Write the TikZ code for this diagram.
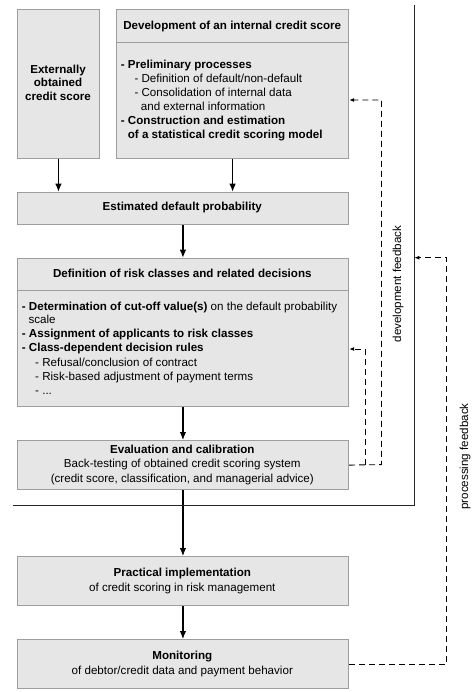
\documentclass[tikz,border=0pt]{standalone}
\usepackage{fontspec}
\setmainfont{Liberation Sans}
\usetikzlibrary{arrows.meta}
\definecolor{boxfill}{HTML}{E6E6E6}
\definecolor{boxline}{HTML}{9E9E9E}
\tikzset{
  box/.style={draw=boxline, fill=boxfill, line width=0.9pt, inner sep=0pt, anchor=north west},
  txt/.style={inner sep=0pt, font=\fontsize{11.6}{14}\selectfont},
  lft/.style={txt, anchor=base west},
  ctr/.style={txt, anchor=base},
  flow/.style={line width=1.1pt, -{Latex[length=8pt,width=6.5pt]}},
  fb/.style={line width=0.9pt, dash pattern=on 6pt off 4pt, -{Latex[length=5pt,width=4pt]}},
}
\begin{document}
\begin{tikzpicture}[x=1pt,y=-1pt]
\useasboundingbox (0,0) rectangle (474,692);

% boxes
\node[box, minimum width=82.6pt, minimum height=148.7pt] (ext) at (16.7,9) {};
\node[box, minimum width=232.3pt, minimum height=148.7pt] (dev) at (116,9) {};
\draw[boxline, line width=0.9pt] (116,42) -- (348.3,42);
\node[box, minimum width=331.6pt, minimum height=32.6pt] (est) at (16.7,191.7) {};
\node[box, minimum width=331.6pt, minimum height=148.3pt] (def) at (16.7,257.7) {};
\draw[boxline, line width=0.9pt] (16.7,290.7) -- (348.3,290.7);
\node[box, minimum width=331.6pt, minimum height=49.3pt] (eval) at (16.7,440) {};
\node[box, minimum width=331.6pt, minimum height=49.3pt] (prac) at (16.7,556) {};
\node[box, minimum width=331.6pt, minimum height=49.3pt] (mon) at (16.7,639) {};

% texts: externally
\node[ctr] (e1) at (58,73.3) {\bfseries Externally};
\node[ctr] (e2) at (58,87) {\bfseries obtained};
\node[ctr] (e3) at (58,101) {\bfseries credit score};

% development
\node[ctr] (dh) at (232.2,29.3) {\bfseries Development of an internal credit score};
\node[lft] (d1) at (120.7,68.6) {\bfseries - Preliminary processes};
\node[lft] (d2) at (134.3,82.6) {- Definition of default/non-default};
\node[lft] (d3) at (134.3,96.6) {- Consolidation of internal data};
\node[lft] (d4) at (140.7,110.3) {and external information};
\node[lft] (d5) at (120.7,124.3) {\bfseries - Construction and estimation};
\node[lft] (d6) at (127.7,138.6) {\bfseries of a statistical credit scoring model};

% estimated
\node[ctr] (es) at (182.3,210.9) {\bfseries Estimated default probability};

% definition
\node[ctr] (dfh) at (182.3,277.3) {\bfseries Definition of risk classes and related decisions};
\node[lft] (f1) at (21.7,310.3) {\textbf{- Determination of cut-off value(s)} on the default probability};
\node[lft] (f2) at (28.3,323.6) {scale};
\node[lft] (f3) at (21.7,337.9) {\bfseries - Assignment of applicants to risk classes};
\node[lft] (f4) at (21.7,351.9) {\bfseries - Class-dependent decision rules};
\node[lft] (f5) at (35,366.3) {- Refusal/conclusion of contract};
\node[lft] (f6) at (35,380.3) {- Risk-based adjustment of payment terms};
\node[lft] (f7) at (35,394) {- ...};

% evaluation
\node[ctr] (v1) at (182.3,453.3) {\bfseries Evaluation and calibration};
\node[ctr] (v2) at (182.3,467.9) {Back-testing of obtained credit scoring system};
\node[ctr] (v3) at (182.3,482.6) {(credit score, classification, and managerial advice)};

% practical
\node[ctr] (p1) at (182.3,576.3) {\bfseries Practical implementation};
\node[ctr] (p2) at (182.3,591.3) {of credit scoring in risk management};

% monitoring
\node[ctr] (m1) at (182.3,659.6) {\bfseries Monitoring};
\node[ctr] (m2) at (182.3,674.3) {of debtor/credit data and payment behavior};

% flow arrows
\draw[flow] (ext.south) -- (ext.south |- est.north);
\draw[flow] (dev.south) -- (dev.south |- est.north);
\draw[flow] (est) -- (def);
\draw[flow] (def) -- (eval);
\draw[flow] (eval) -- (prac);
\draw[flow] (prac) -- (mon);

% boundary line
\coordinate (lt) at (414.3,5);
\coordinate (lb) at (414.3,505.7);
\coordinate (ll) at (13.3,505.7);
\draw[line width=1pt, black!85] (lt) -- (lb) -- (ll);

% development feedback
\coordinate (fa) at (381.5,464.6);
\coordinate (fd) at (381.5,100);
\coordinate (fi) at (365,349);
\draw[fb] (eval.east) -- (fa) -- (fd) -- (fd -| dev.east);
\draw[fb] (fi |- fa) -- (fi) -- (fi -| def.east);
\node[txt, rotate=90] (devfb) at (398,284) {development feedback};

% processing feedback
\coordinate (pf) at (446.7,257.7);
\draw[fb] (mon.east) -- (mon.east -| pf) -- (pf) -- (pf -| lt);
\node[txt, rotate=90] (procfb) at (465,456.5) {processing feedback};
\end{tikzpicture}
\end{document}
